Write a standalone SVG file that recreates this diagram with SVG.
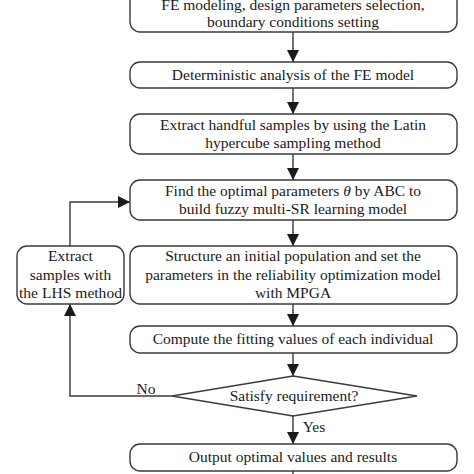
<svg xmlns="http://www.w3.org/2000/svg" width="474" height="474" viewBox="0 0 474 474">
<defs>
<marker id="ah" markerWidth="12" markerHeight="12" refX="12" refY="6" orient="auto" markerUnits="userSpaceOnUse">
<path d="M0,0 L12,6 L0,12 Z" fill="#1a1a1a"/>
</marker>
<style>
.box{fill:#fff;stroke:#3a3a3a;stroke-width:1.4}
.t{font-family:"Liberation Serif","Times New Roman",serif;font-size:15.5px;fill:#1a1a1a;text-anchor:middle}
.c{fill:none;stroke:#3a3a3a;stroke-width:1.4}
</style>
</defs>
<rect width="474" height="474" fill="#fff"/>
<g id="connectors">
<line class="c" x1="293" y1="32" x2="293" y2="62" marker-end="url(#ah)"/>
<line class="c" x1="293" y1="88" x2="293" y2="114" marker-end="url(#ah)"/>
<line class="c" x1="293" y1="154" x2="293" y2="180" marker-end="url(#ah)"/>
<line class="c" x1="293" y1="220" x2="293" y2="246" marker-end="url(#ah)"/>
<line class="c" x1="293" y1="304" x2="293" y2="326" marker-end="url(#ah)"/>
<line class="c" x1="293" y1="353" x2="293" y2="376" marker-end="url(#ah)"/>
<line class="c" x1="293" y1="416" x2="293" y2="444" marker-end="url(#ah)"/>
<line class="c" x1="293" y1="471" x2="293" y2="474"/>
<polyline class="c" points="172,396 70,396 70,304" marker-end="url(#ah)"/>
<polyline class="c" points="70,246 70,202 130,202" marker-end="url(#ah)"/>
<text class="t" x="146" y="394">No</text>
<text class="t" x="314" y="432">Yes</text>
</g>
<g id="n1">
<rect class="box" x="130" y="-10" width="327" height="42" rx="10"/>
<text class="t" x="293" y="10">FE modeling, design parameters selection,</text>
<text class="t" x="293" y="27">boundary conditions setting</text>
</g>
<g id="n2">
<rect class="box" x="130" y="62" width="327" height="26" rx="10"/>
<text class="t" x="293" y="80">Deterministic analysis of the FE model</text>
</g>
<g id="n3">
<rect class="box" x="130" y="114" width="327" height="40" rx="10"/>
<text class="t" x="293" y="130">Extract handful samples by using the Latin</text>
<text class="t" x="293" y="148">hypercube sampling method</text>
</g>
<g id="n4">
<rect class="box" x="130" y="180" width="327" height="40" rx="10"/>
<text class="t" x="293" y="196">Find the optimal parameters <tspan font-style="italic">θ</tspan> by ABC to</text>
<text class="t" x="293" y="214">build fuzzy multi-SR learning model</text>
</g>
<g id="n5">
<rect class="box" x="130" y="246" width="327" height="58" rx="10"/>
<text class="t" x="293" y="261">Structure an initial population and set the</text>
<text class="t" x="293" y="280">parameters in the reliability optimization model</text>
<text class="t" x="293" y="298">with MPGA</text>
</g>
<g id="n_left">
<rect class="box" x="17" y="246" width="107" height="58" rx="10"/>
<text class="t" x="70.5" y="261">Extract</text>
<text class="t" x="70.5" y="280">samples with</text>
<text class="t" x="70.5" y="298" textLength="103" lengthAdjust="spacingAndGlyphs">the LHS method</text>
</g>
<g id="n6">
<rect class="box" x="130" y="326" width="327" height="27" rx="10"/>
<text class="t" x="293" y="344">Compute the fitting values of each individual</text>
</g>
<g id="n_dec">
<polygon class="box" points="293,376 417,396 293,416 172,396"/>
<text class="t" x="294" y="401">Satisfy requirement?</text>
</g>
<g id="n7">
<rect class="box" x="130" y="444" width="327" height="27" rx="10"/>
<text class="t" x="293" y="462">Output optimal values and results</text>
</g>
</svg>
